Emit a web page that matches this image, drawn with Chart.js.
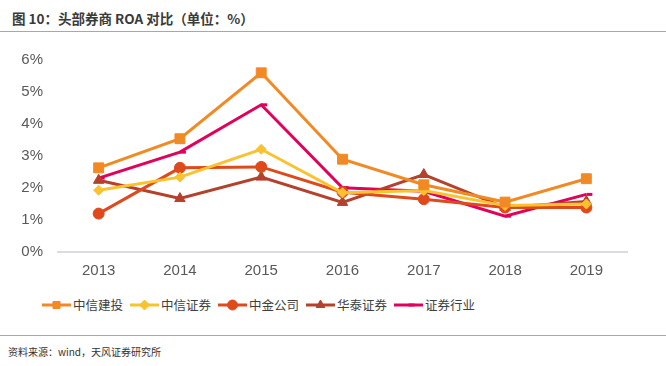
<!DOCTYPE html>
<html lang="zh">
<head>
<meta charset="UTF-8">
<title>头部券商 ROA 对比</title>
<script src="https://cdn.jsdelivr.net/npm/chart.js"></script>
<style>
  body { margin: 0; width: 666px; height: 366px; background: #fff; position: relative; overflow: hidden;
         font-family: "Noto Sans CJK SC", "Noto Sans", sans-serif; }
  #title { position: absolute; left: 12px; top: 8px; font-size: 13.5px; font-weight: bold; color: #3a3a3a; }
  .rule { position: absolute; left: 0; width: 666px; height: 1px; background: #d8a24a; }
  #chartBox { position: absolute; left: 0; top: 36px; width: 666px; height: 254px; }
  #legend { position: absolute; left: 42px; top: 295px; display: flex; align-items: center; font-size: 12.5px; color: #404040; }
  .item { display: flex; align-items: center; margin-right: 7px; }
  .item canvas { margin-right: 2px; }
  #source { position: absolute; left: 8px; top: 344px; font-size: 10px; color: #333; }
</style>
</head>
<body>
<div id="title">图 10：头部券商 ROA 对比（单位：%）</div>
<div class="rule" style="top:31px"></div>
<div id="chartBox"><canvas id="roaChart"></canvas></div>
<div id="legend"></div>
<div class="rule" style="top:335px"></div>
<div id="source">资料来源：wind，天风证券研究所</div>

<script>
// years on the x axis
const years = ['2013', '2014', '2015', '2016', '2017', '2018', '2019'];

// ROA, %
const citicCs   = [2.63, 3.54, 5.60, 2.90, 2.10, 1.56, 2.29]; // 中信建投
const citicSec  = [1.93, 2.34, 3.21, 1.85, 1.92, 1.45, 1.50]; // 中信证券
const cicc      = [1.20, 2.63, 2.66, 1.87, 1.65, 1.39, 1.39]; // 中金公司
const htsc      = [2.24, 1.67, 2.34, 1.55, 2.42, 1.39, 1.58]; // 华泰证券
const industry  = [2.31, 3.12, 4.60, 2.01, 1.90, 1.12, 1.80]; // 证券行业

const seriesNames = ['中信建投', '中信证券', '中金公司', '华泰证券', '证券行业'];
const yTicks = [0, 1, 2, 3, 4, 5, 6];

const series = [
  { label: seriesNames[0], data: citicCs,  color: '#f18a24', style: 'rect',     radius: 7 },
  { label: seriesNames[1], data: citicSec, color: '#f9c22e', style: 'rectRot',  radius: 5 },
  { label: seriesNames[2], data: cicc,     color: '#df4a1c', style: 'circle',   radius: 5.5 },
  { label: seriesNames[3], data: htsc,     color: '#b4412c', style: 'triangle', radius: 6 },
  { label: seriesNames[4], data: industry, color: '#e2005b', style: 'dash',     radius: 6 }
];

const ctx = document.getElementById('roaChart').getContext('2d');
new Chart(ctx, {
  type: 'line',
  data: {
    labels: years,
    datasets: series.map(s => ({
      label: s.label,
      data: s.data,
      borderColor: s.color,
      backgroundColor: s.color,
      borderWidth: 3,
      pointStyle: s.style,
      pointRadius: s.radius,
      pointBorderWidth: s.style === 'dash' ? 3 : 1,
      pointBorderColor: s.color,
      tension: 0
    }))
  },
  options: {
    responsive: true,
    maintainAspectRatio: false,
    animation: false,
    layout: { padding: { top: 8, right: 39, left: 0, bottom: 0 } },
    plugins: { legend: { display: false }, tooltip: { enabled: false } },
    scales: {
      x: {
        offset: true,
        grid: { display: false, drawTicks: false },
        border: { display: true, color: '#d9dce3', width: 2 },
        ticks: { color: '#595959', padding: 10, font: { size: 15, family: 'Liberation Sans, Arial' } },
        afterFit: scale => { scale.height = 38; }
      },
      y: {
        min: 0, max: 6,
        afterBuildTicks: scale => { scale.ticks = yTicks.map(v => ({ value: v })); },
        grid: { display: false, drawTicks: false },
        border: { display: false },
        ticks: { color: '#595959', padding: 15, callback: v => v + '%', font: { size: 15, family: 'Liberation Sans, Arial' } },
        afterFit: scale => { scale.width = 58; }
      }
    }
  }
});

// legend: line with marker, then the name
const legend = document.getElementById('legend');
series.forEach(s => {
  const item = document.createElement('div');
  item.className = 'item';
  const c = document.createElement('canvas');
  c.width = 29; c.height = 14;
  const g = c.getContext('2d');
  g.strokeStyle = s.color;
  g.lineWidth = 3;
  g.beginPath(); g.moveTo(0, 7); g.lineTo(29, 7); g.stroke();
  g.fillStyle = s.color;
  g.lineWidth = s.style === 'dash' ? 3 : 1;
  Chart.helpers.drawPoint(g, { pointStyle: s.style, radius: s.style === 'dash' ? 6 : 5, borderWidth: g.lineWidth }, 14.5, 7);
  const t = document.createElement('span');
  t.textContent = s.label;
  item.appendChild(c);
  item.appendChild(t);
  legend.appendChild(item);
});
</script>
</body>
</html>
